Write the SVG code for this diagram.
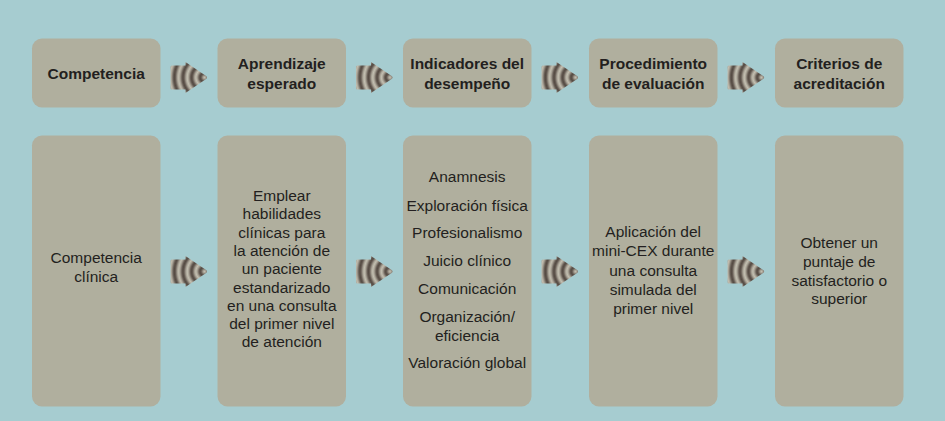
<svg xmlns="http://www.w3.org/2000/svg" xmlns:xlink="http://www.w3.org/1999/xlink" width="945" height="421" viewBox="0 0 945 421">
  <defs>
    <style>
      .box { fill: #b0af9e; }
      .t { font-family: "Liberation Sans", Arial, sans-serif; font-size: 15.5px; fill: #231f20; text-anchor: middle; }
      .b { font-weight: bold; }
    </style>
    <radialGradient id="rings" gradientUnits="userSpaceOnUse" cx="34" cy="0" r="4.3" spreadMethod="reflect">
      <stop offset="0" stop-color="#c2beb0"/>
      <stop offset="0.3" stop-color="#aaa497"/>
      <stop offset="0.75" stop-color="#665c54"/>
      <stop offset="1" stop-color="#554b43"/>
    </radialGradient>
    <path id="arrow" fill="url(#rings)" d="M1.5,-12 H15 V-15.5 L36,-1.2 Q37.3,0 36,1.2 L15,15.5 V12 H1.5 Q0,12 0,10.5 V-10.5 Q0,-12 1.5,-12 Z"/>
  </defs>
  <rect x="0" y="0" width="945" height="421" fill="#a6ccd0"/>

  <g id="connectors">
    <use xlink:href="#arrow" transform="translate(170.5,77.5)"/>
    <use xlink:href="#arrow" transform="translate(356,77.5)"/>
    <use xlink:href="#arrow" transform="translate(541.5,77.5)"/>
    <use xlink:href="#arrow" transform="translate(727.5,77.5)"/>
    <use xlink:href="#arrow" transform="translate(170.5,271.5)"/>
    <use xlink:href="#arrow" transform="translate(356,271.5)"/>
    <use xlink:href="#arrow" transform="translate(541.5,271.5)"/>
    <use xlink:href="#arrow" transform="translate(727.5,271.5)"/>
  </g>

  <g id="h1">
    <rect class="box" x="32" y="38.5" width="128.5" height="69" rx="10"/>
    <text class="t b" x="96.2" y="78.5">Competencia</text>
  </g>
  <g id="h2">
    <rect class="box" x="217.5" y="38.5" width="128.5" height="69" rx="10"/>
    <text class="t b" x="281.8" y="69">Aprendizaje</text>
    <text class="t b" x="281.8" y="88.5">esperado</text>
  </g>
  <g id="h3">
    <rect class="box" x="403" y="38.5" width="128.5" height="69" rx="10"/>
    <text class="t b" x="467.2" y="69">Indicadores del</text>
    <text class="t b" x="467.2" y="88.5">desempeño</text>
  </g>
  <g id="h4">
    <rect class="box" x="589" y="38.5" width="128.5" height="69" rx="10"/>
    <text class="t b" x="653.2" y="69">Procedimiento</text>
    <text class="t b" x="653.2" y="88.5">de evaluación</text>
  </g>
  <g id="h5">
    <rect class="box" x="775" y="38.5" width="128.5" height="69" rx="10"/>
    <text class="t b" x="839.2" y="69">Criterios de</text>
    <text class="t b" x="839.2" y="88.5">acreditación</text>
  </g>

  <g id="c1">
    <rect class="box" x="32" y="135.5" width="128.5" height="271" rx="10"/>
    <text class="t" x="96.2" y="263.3">Competencia</text>
    <text class="t" x="96.2" y="281.7">clínica</text>
  </g>
  <g id="c2">
    <rect class="box" x="217.5" y="135.5" width="128.5" height="271" rx="10"/>
    <text class="t" x="281.8" y="201">Emplear</text>
    <text class="t" x="281.8" y="219.3">habilidades</text>
    <text class="t" x="281.8" y="237.6">clínicas para</text>
    <text class="t" x="281.8" y="255.9">la atención de</text>
    <text class="t" x="281.8" y="274.2">un paciente</text>
    <text class="t" x="281.8" y="292.5">estandarizado</text>
    <text class="t" x="281.8" y="310.8">en una consulta</text>
    <text class="t" x="281.8" y="329.1">del primer nivel</text>
    <text class="t" x="281.8" y="347.4">de atención</text>
  </g>
  <g id="c3">
    <rect class="box" x="403" y="135.5" width="128.5" height="271" rx="10"/>
    <text class="t" x="467.2" y="182.3">Anamnesis</text>
    <text class="t" x="467.2" y="210.5">Exploración física</text>
    <text class="t" x="467.2" y="238.3">Profesionalismo</text>
    <text class="t" x="467.2" y="266">Juicio clínico</text>
    <text class="t" x="467.2" y="294">Comunicación</text>
    <text class="t" x="467.2" y="321.7">Organización/</text>
    <text class="t" x="467.2" y="340.7">eficiencia</text>
    <text class="t" x="467.2" y="368.3">Valoración global</text>
  </g>
  <g id="c4">
    <rect class="box" x="589" y="135.5" width="128.5" height="271" rx="10"/>
    <text class="t" x="653.2" y="236.7">Aplicación del</text>
    <text class="t" x="653.2" y="256.2">mini-CEX durante</text>
    <text class="t" x="653.2" y="275.7">una consulta</text>
    <text class="t" x="653.2" y="295">simulada del</text>
    <text class="t" x="653.2" y="313.5">primer nivel</text>
  </g>
  <g id="c5">
    <rect class="box" x="775" y="135.5" width="128.5" height="271" rx="10"/>
    <text class="t" x="839.2" y="248">Obtener un</text>
    <text class="t" x="839.2" y="266.8">puntaje de</text>
    <text class="t" x="839.2" y="285.6">satisfactorio o</text>
    <text class="t" x="839.2" y="304.2">superior</text>
  </g>
</svg>
